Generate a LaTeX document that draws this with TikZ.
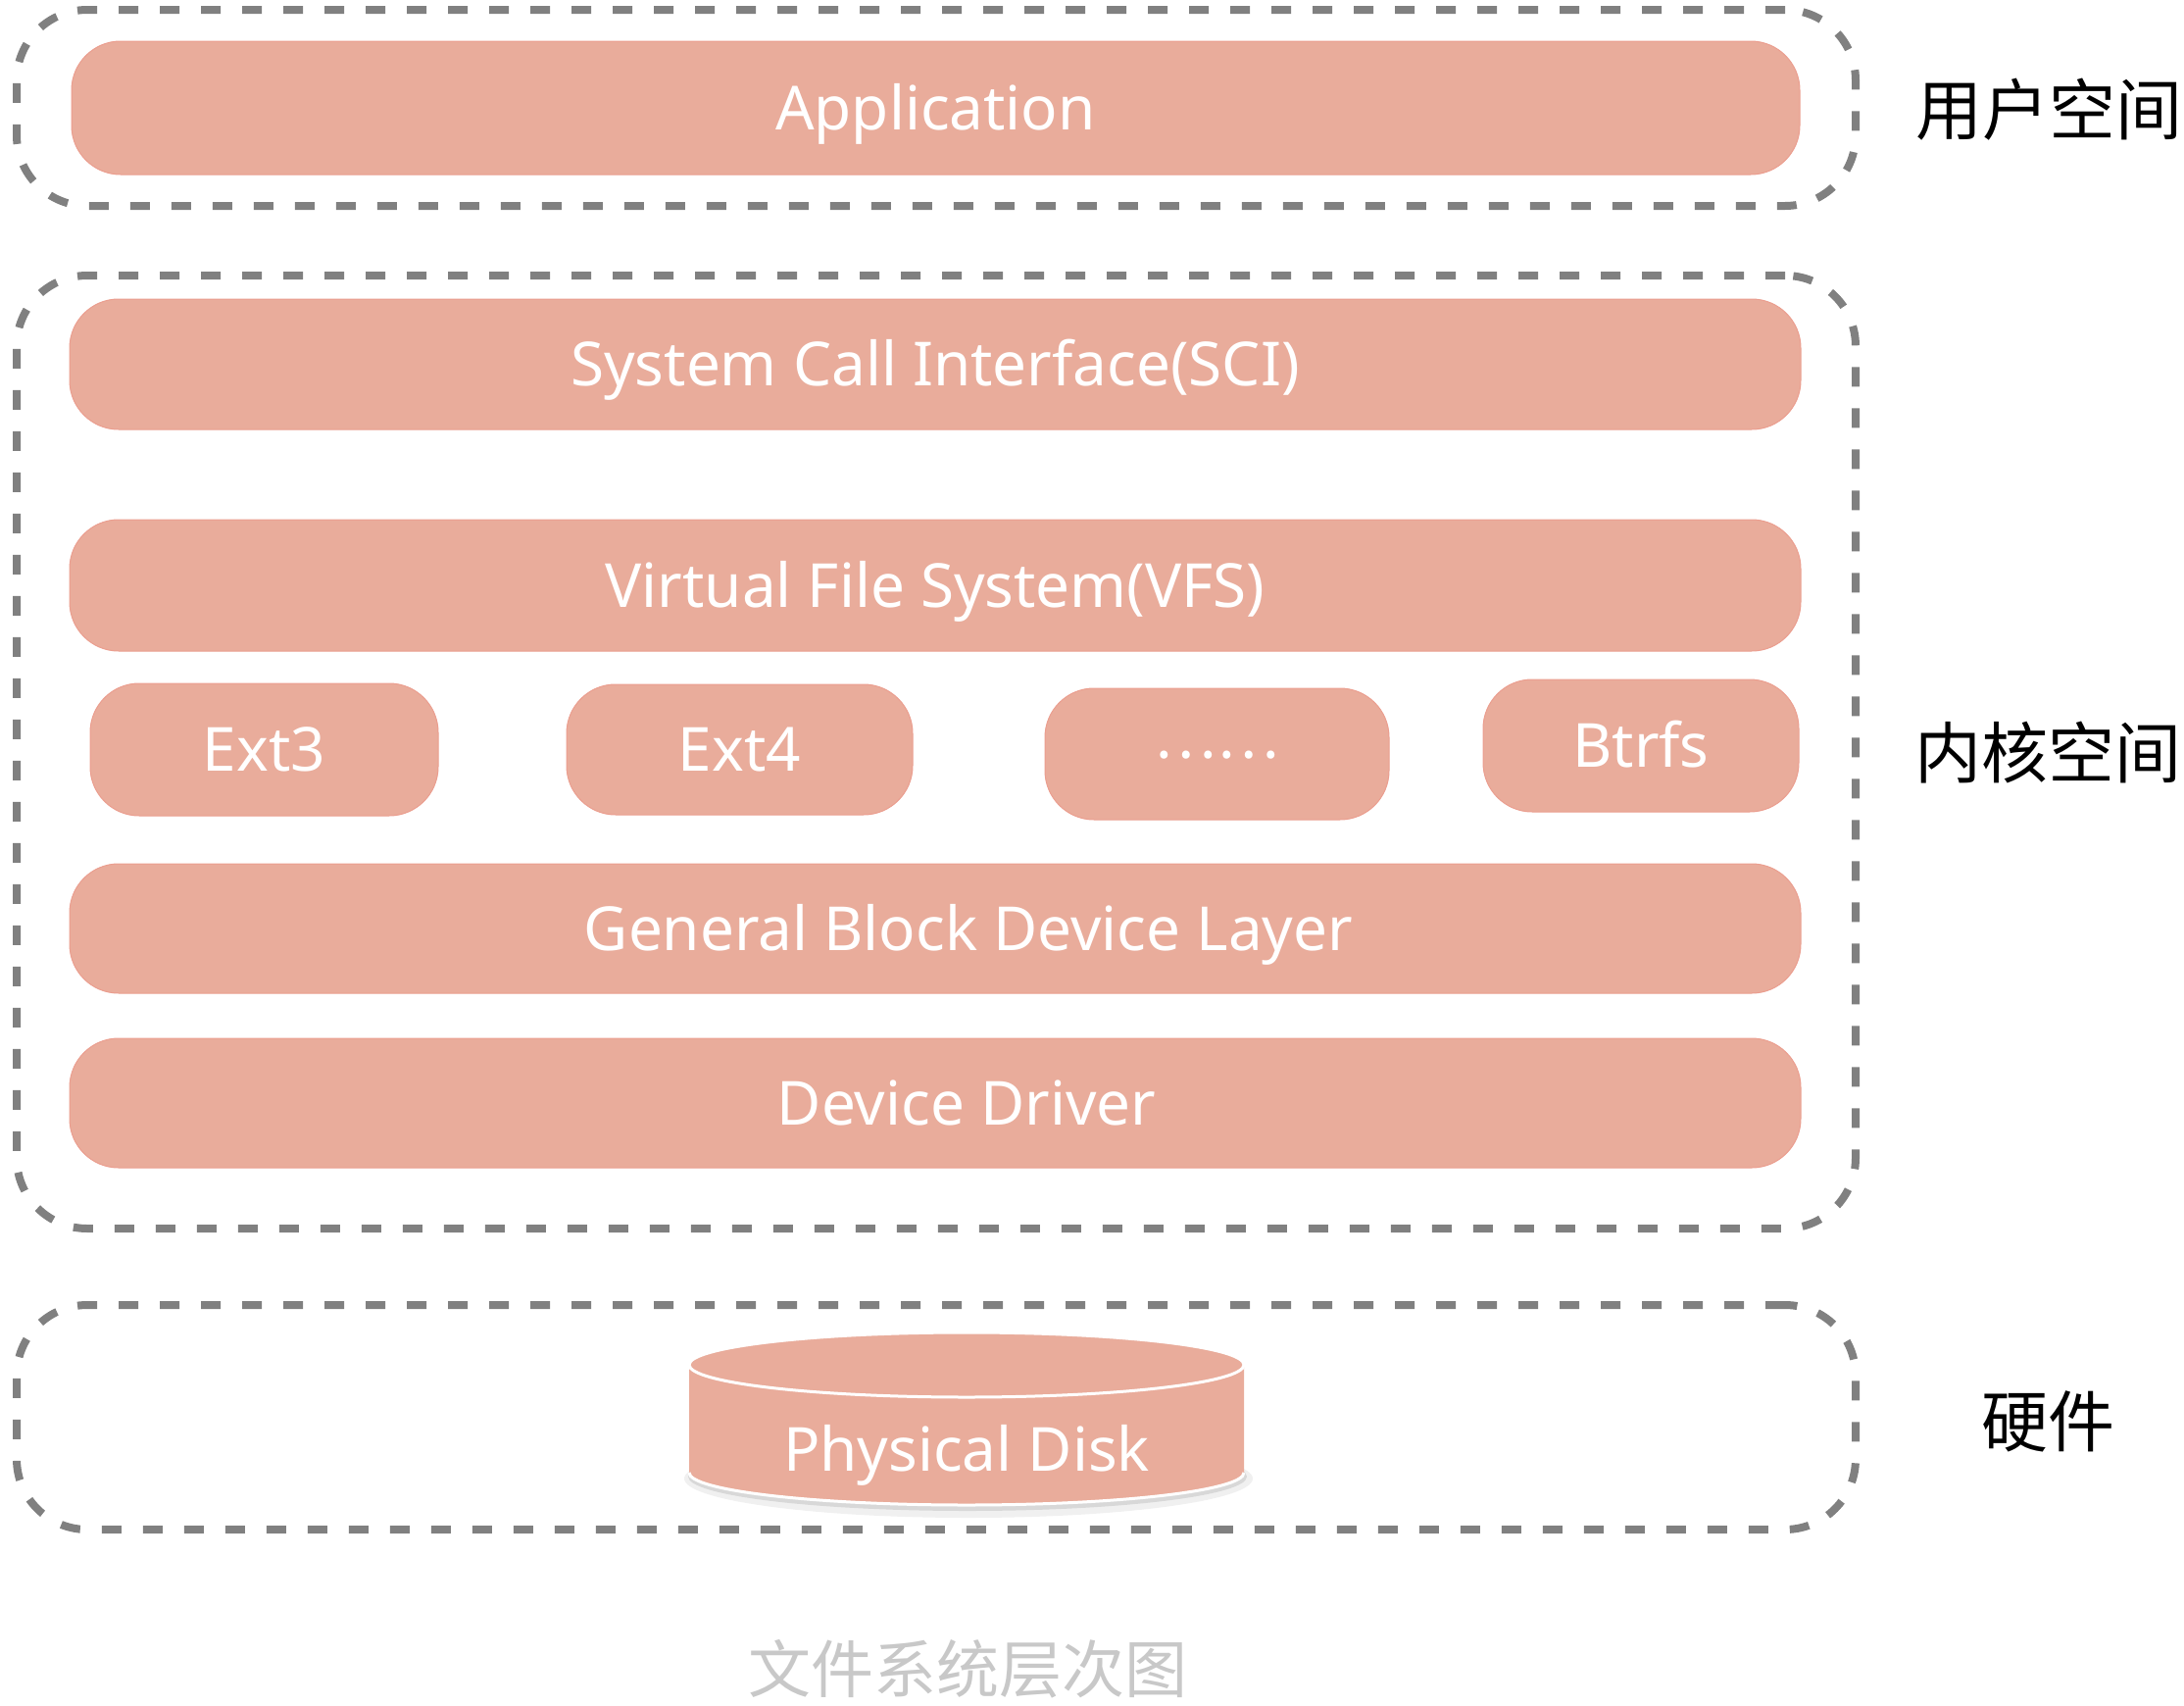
\documentclass[tikz,border=0pt]{standalone}
\usepackage{fontspec}
\setmainfont{Noto Sans}
\newfontfamily\cjk{Noto Sans CJK SC}
\definecolor{boxfill}{RGB}{233,172,155}
\definecolor{dashgray}{RGB}{128,128,128}
\definecolor{capgray}{RGB}{200,200,200}
\tikzset{
  layer/.style={rectangle, rounded corners=25pt, fill=boxfill, draw=boxfill!92!red, line width=0.5pt,
    text=white, inner sep=0pt, text height=22pt, text depth=0pt, font=\fontsize{31pt}{35pt}\selectfont},
  groupbox/.style={rectangle, draw=dashgray, line width=4pt, dash pattern=on 10pt off 11pt,
    rounded corners=36pt, inner sep=0pt},
  sidelabel/.style={font=\cjk\fontsize{34pt}{38pt}\selectfont, text=black},
}
\begin{document}
\begin{tikzpicture}[x=0.5pt,y=-0.5pt]
\useasboundingbox (0,0) rectangle (2228,1740);
% group boxes
\node[groupbox, minimum width=938pt, minimum height=100pt] (user) at (955,110) {};
\node[groupbox, minimum width=938pt, minimum height=486pt] (kernel) at (955,767) {};
\node[groupbox, minimum width=938pt, minimum height=114.5pt] (hw) at (955,1445.5) {};
% layers
\node[layer, minimum width=881.5pt, minimum height=68pt] (app) at (954.5,110) {Application};
\node[layer, minimum width=883pt, minimum height=66.5pt] (sci) at (954,371.5) {System Call Interface(SCI)};
\node[layer, minimum width=883pt, minimum height=67pt] (vfs) at (954,597) {Virtual File System(VFS)};
\node[layer, minimum width=177.5pt, minimum height=67.5pt] (ext3) at (269.5,764.5) {Ext3};
\node[layer, minimum width=176.5pt, minimum height=66.5pt] (ext4) at (754.5,764.5) {Ext4};
\node[layer, minimum width=175.5pt, minimum height=67pt, text height=4pt, font=\cjk\fontsize{30pt}{34pt}\selectfont] (dots) at (1241.5,769) {……};
\node[layer, minimum width=161pt, minimum height=67.5pt] (btrfs) at (1674,760.5) {Btrfs};
\node[layer, minimum width=883pt, minimum height=66pt] (gbdl) at (954,947) {\hspace*{34pt}General Block Device Layer};
\node[layer, minimum width=883pt, minimum height=66pt] (dd) at (954,1125) {\hspace*{32pt}Device Driver};
% disk
\fill[black, opacity=0.06] (988,1508) ellipse [x radius=290, y radius=40];
\fill[black, opacity=0.10] (987,1506) ellipse [x radius=285, y radius=35];
\path[fill=boxfill] (703,1392) -- (703,1502) arc[start angle=180, end angle=0, x radius=283, y radius=33] -- (1269,1392) -- cycle;
\draw[white, line width=1.5pt] (703,1502) arc[start angle=180, end angle=0, x radius=283, y radius=33];
\filldraw[fill=boxfill, draw=white, line width=1.5pt] (986,1392) ellipse [x radius=283, y radius=33];
\node[text=white, font=\fontsize{31pt}{35pt}\selectfont] (disk) at (986,1484) {Physical Disk};
% side labels
\node[sidelabel] (lu) at (2090,112) {用户空间};
\node[sidelabel] (lk) at (2089,768) {内核空间};
\node[sidelabel] (lh) at (2089,1450) {硬件};
% caption
\node[font=\cjk\fontsize{32pt}{36pt}\selectfont, text=capgray] (cap) at (987,1702) {文件系统层次图};
\end{tikzpicture}
\end{document}
